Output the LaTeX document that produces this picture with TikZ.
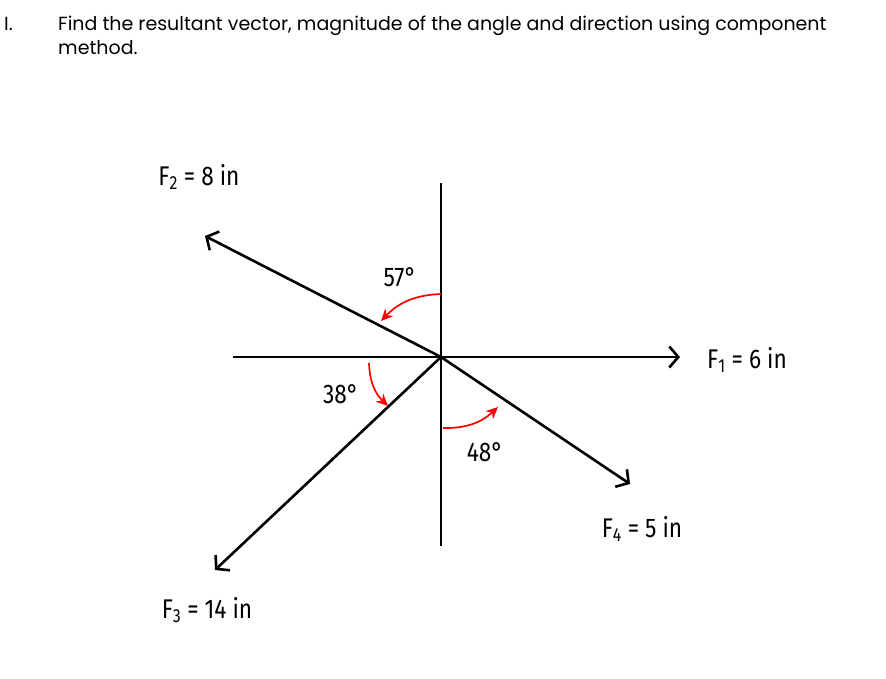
\documentclass[tikz,border=0pt]{standalone}
\usepackage{fontspec}
\setmainfont{Poppins}
\newfontfamily\lblfont[FakeStretch=0.84]{Fira Sans}
\usetikzlibrary{arrows.meta}
\begin{document}
\begin{tikzpicture}[x=1pt,y=-1pt,
  vec/.style={line width=2.6pt,-{Straight Barb[length=9pt,width=21pt,line width=2.6pt]}},
  axis/.style={line width=2.6pt},
  ang/.style={red,line width=1.7pt,-{Stealth[length=12pt,width=11pt]}},
  lbl/.style={font=\lblfont\fontsize{27}{30}\selectfont,inner sep=0pt},
  ttl/.style={font=\fontsize{19}{23}\selectfont,inner sep=0pt,anchor=base west}]
\useasboundingbox (0,0) rectangle (886,678);
% title
\node[ttl] (num) at (4,30) {I.};
\node[ttl] (t1) at (58,30) {Find the resultant vector, magnitude of the angle and direction using component};
\node[ttl] (t2) at (58,54) {method.};
% axes
\coordinate (O) at (441,357);
\coordinate (top) at (441,183);
\coordinate (bot) at (441,546);
\coordinate (left) at (233,357);
\coordinate (f1) at (680,357);
\coordinate (f2) at (205,236);
\coordinate (f3) at (215,570);
\coordinate (f4) at (630,484);
\draw[axis] (top) -- (bot);
\draw[axis] (left) -- (O);
\draw[vec] (O) -- (f1);
\draw[vec] (O) -- (f2);
\draw[vec] (O) -- (f3);
\draw[vec] (O) -- (f4);
% angle arcs
\coordinate (a1s) at (441,294);
\coordinate (a1e) at (381,321);
\coordinate (a2s) at (369,363);
\coordinate (a2e) at (388,406);
\coordinate (a3s) at (443,428);
\coordinate (a3e) at (498,407);
\draw[ang] (a1s) to[bend right=22] (a1e);
\draw[ang] (a2s) to[bend right=22] (a2e);
\draw[ang] (a3s) to[bend right=22] (a3e);
% labels
\node[lbl] (l57) at (400,277) {57°};
\node[lbl] (l38) at (341,394) {38°};
\node[lbl] (l48) at (485,452) {48°};
\node[lbl] (lf2) at (199,177) {F\textsubscript{2} = 8 in};
\node[lbl] (lf1) at (747,360) {F\textsubscript{1} = 6 in};
\node[lbl] (lf4) at (642,529) {F\textsubscript{4} = 5 in};
\node[lbl] (lf3) at (207,610) {F\textsubscript{3} = 14 in};
\end{tikzpicture}
\end{document}
